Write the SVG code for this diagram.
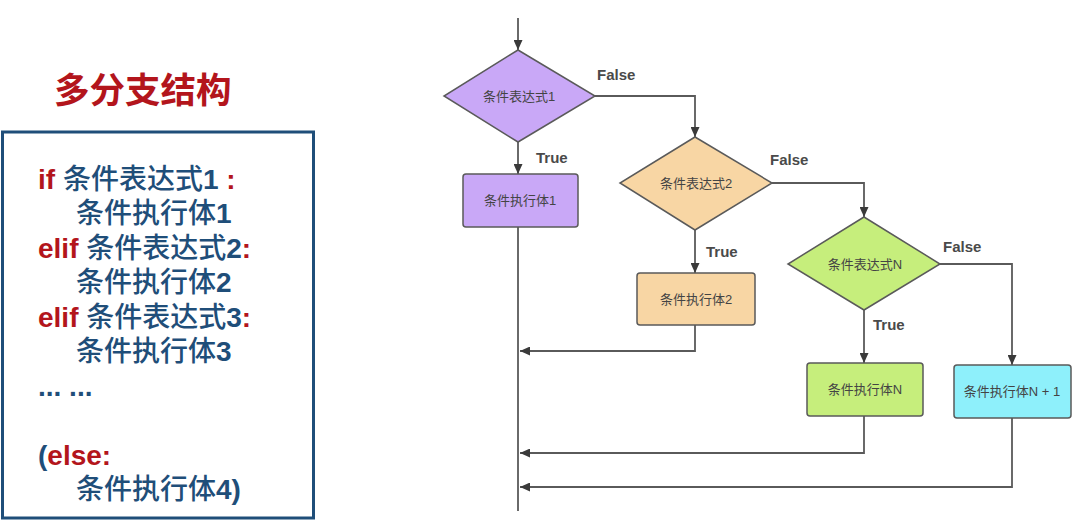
<svg xmlns="http://www.w3.org/2000/svg" width="1080" height="522" viewBox="0 0 1080 522">
<style>
.title{font-family:"Liberation Sans","Noto Sans CJK SC",sans-serif;font-size:35.5px;font-weight:bold;fill:#b3151c}
.code{font-family:"Liberation Sans","Noto Sans CJK SC",sans-serif;font-size:28px;font-weight:500;fill:#1f4e79}
.b{font-weight:bold}
.kw{fill:#b3151c;font-weight:bold}
.node{stroke:#5a5a5a;stroke-width:1.5}
.ntext{font-family:"Liberation Sans","Noto Sans CJK SC",sans-serif;font-size:13px;fill:#444;text-anchor:middle}
.lbl{font-family:"Liberation Sans","Noto Sans CJK SC",sans-serif;font-size:15px;font-weight:bold;fill:#4a4a4a}
.conn{fill:none;stroke:#5a5a5a;stroke-width:1.8}
.purple{fill:#c9a8f7}
.orange{fill:#f8d6a4}
.green{fill:#c6ee7c}
.cyan{fill:#8ef0fb}
</style>
<defs>
<marker id="arr" markerUnits="userSpaceOnUse" markerWidth="10" markerHeight="9" refX="10" refY="4.5" orient="auto">
<path d="M0,0 L10,4.5 L0,9 z" fill="#3a3a3a"/>
</marker>
</defs>
<rect width="1080" height="522" fill="#ffffff"/>

<g id="title">
<text class="title" x="54" y="103">多分支结构</text>
</g>

<g id="code-box">
<rect x="2.5" y="132" width="311" height="386" fill="none" stroke="#1f4e79" stroke-width="3"/>
<text class="code" x="38" y="189"><tspan class="kw">if</tspan> 条件表达式<tspan class="b">1 </tspan><tspan class="kw">:</tspan></text>
<text class="code" x="76" y="223">条件执行体<tspan class="b">1</tspan></text>
<text class="code" x="38" y="258"><tspan class="kw">elif</tspan> 条件表达式<tspan class="b">2</tspan><tspan class="kw">:</tspan></text>
<text class="code" x="76" y="292">条件执行体<tspan class="b">2</tspan></text>
<text class="code" x="38" y="327"><tspan class="kw">elif</tspan> 条件表达式<tspan class="b">3</tspan><tspan class="kw">:</tspan></text>
<text class="code" x="76" y="361">条件执行体<tspan class="b">3</tspan></text>
<text class="code b" x="38" y="396">... ...</text>
<text class="code" x="38" y="465"><tspan class="b">(</tspan><tspan class="kw">else:</tspan></text>
<text class="code" x="76" y="499">条件执行体<tspan class="b">4)</tspan></text>
</g>

<g id="connectors">
<path class="conn" d="M518,18 L518,50" marker-end="url(#arr)"/>
<path class="conn" d="M518,142 L518,174" marker-end="url(#arr)"/>
<path class="conn" d="M518,227 L518,511"/>
<path class="conn" d="M595,96 L695,96 L695,137" marker-end="url(#arr)"/>
<path class="conn" d="M695,230 L695,273" marker-end="url(#arr)"/>
<path class="conn" d="M772,183 L864,183 L864,217" marker-end="url(#arr)"/>
<path class="conn" d="M864,310 L864,363" marker-end="url(#arr)"/>
<path class="conn" d="M940,264 L1012,264 L1012,365" marker-end="url(#arr)"/>
<path class="conn" d="M695,325 L695,351 L520,351" marker-end="url(#arr)"/>
<path class="conn" d="M864,416 L864,453 L520,453" marker-end="url(#arr)"/>
<path class="conn" d="M1012,418 L1012,487 L520,487" marker-end="url(#arr)"/>
<text class="lbl" x="597" y="80">False</text>
<text class="lbl" x="536" y="163">True</text>
<text class="lbl" x="770" y="165">False</text>
<text class="lbl" x="706" y="257">True</text>
<text class="lbl" x="943" y="252">False</text>
<text class="lbl" x="873" y="330">True</text>
</g>

<g id="cond1">
<polygon class="node purple" points="518,50 595,96 518,142 444,96"/>
<text class="ntext" x="519" y="101">条件表达式1</text>
</g>
<g id="body1">
<rect class="node purple" x="463" y="174" width="115" height="53" rx="3"/>
<text class="ntext" x="520" y="205">条件执行体1</text>
</g>
<g id="cond2">
<polygon class="node orange" points="695,137 772,183 695,230 620,183"/>
<text class="ntext" x="696" y="188">条件表达式2</text>
</g>
<g id="body2">
<rect class="node orange" x="637" y="273" width="118" height="52" rx="3"/>
<text class="ntext" x="696" y="304">条件执行体2</text>
</g>
<g id="condN">
<polygon class="node green" points="864,217 940,264 864,310 788,264"/>
<text class="ntext" x="865" y="269">条件表达式N</text>
</g>
<g id="bodyN">
<rect class="node green" x="807" y="363" width="116" height="53" rx="3"/>
<text class="ntext" x="865" y="394">条件执行体N</text>
</g>
<g id="bodyN1">
<rect class="node cyan" x="954" y="365" width="117" height="53" rx="3"/>
<text class="ntext" x="1012" y="396">条件执行体N + 1</text>
</g>
</svg>
